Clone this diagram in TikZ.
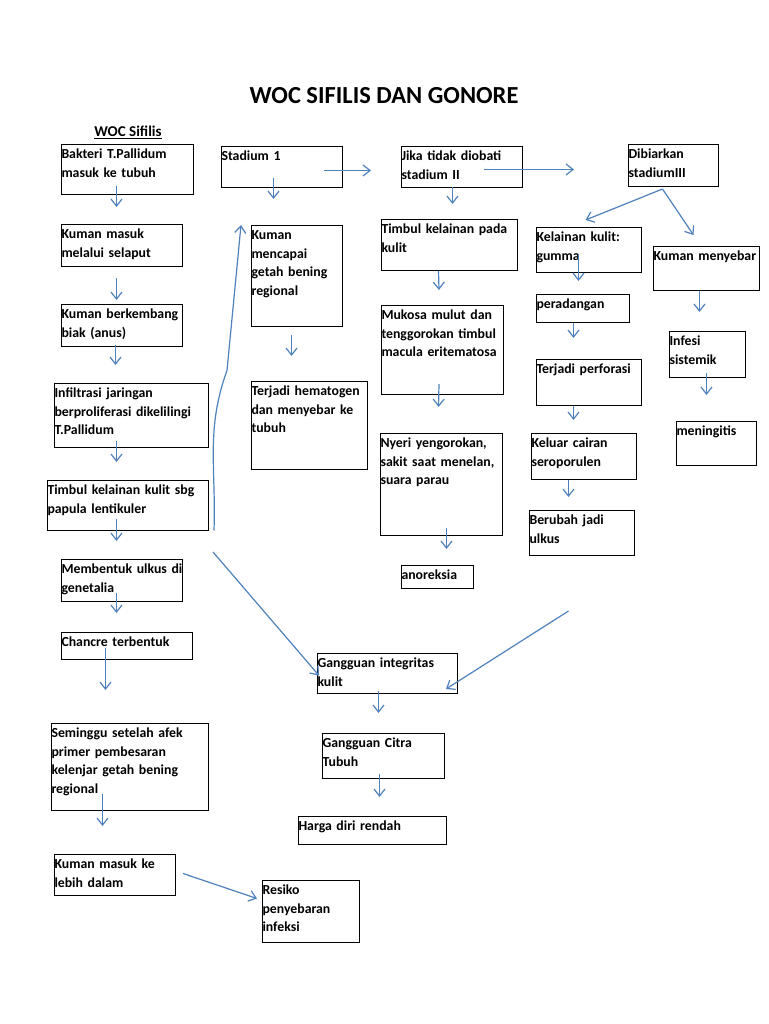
\documentclass[tikz,border=0pt]{standalone}
\usepackage{fontspec}
\setmainfont{Carlito}
\usetikzlibrary{arrows.meta}
\definecolor{wocblue}{RGB}{79,129,189}
\tikzset{
  woc box/.style 2 args={
    draw, line width=1pt,
    anchor=north west,
    inner sep=0pt, align=left,
    font=\bfseries\fontsize{13.8}{18.7}\selectfont,
    text width=#1pt, text height=14pt, text depth=#2pt,
  },
  woc arrow/.style={
    draw=wocblue, line width=1.2pt,
    -{Straight Barb[length=7pt,width=11pt]},
  },
  woc title/.style={
    anchor=base,
    font=\bfseries\fontsize{24.5}{28}\selectfont,
  },
}

\begin{document}
\begin{tikzpicture}[x=1pt, y=-1pt]

\path[fill=white] (0,0) rectangle (768,1024);

\node[woc title] (title) at (384,104) {WOC SIFILIS DAN GONORE};
\node[anchor=base, font=\bfseries\fontsize{15}{18}\selectfont] (sub) at (128,137)
  {\underline{WOC Sifilis}};

% stadium 1, left column
\node[woc box={132}{36}] (b1) at (61,144) {Bakteri T.Pallidum\\masuk ke tubuh};
\node[woc box={121}{28}] (b2) at (61,224) {Kuman masuk\\melalui selaput};
\node[woc box={121}{28}] (b3) at (61,304) {Kuman berkembang\\biak (anus)};
\node[woc box={154}{50}] (b4) at (54,383) {Infiltrasi jaringan\\berproliferasi dikelilingi\\T.Pallidum};
\node[woc box={161}{36}] (b5) at (47,480) {Timbul kelainan kulit sbg\\papula lentikuler};
\node[woc box={121}{28}] (b6) at (61,559) {Membentuk ulkus di\\genetalia};
\node[woc box={131}{13}] (b7) at (61,632) {Chancre terbentuk};
\node[woc box={157}{73}] (b8) at (51,723) {Seminggu setelah afek\\primer pembesaran\\kelenjar getah bening\\regional};
\node[woc box={121}{27}] (b9) at (54,854) {Kuman masuk ke\\lebih dalam};
\node[woc box={97}{48}] (b10) at (262,880) {Resiko\\penyebaran\\infeksi};

\node[woc box={121}{27}] (s1) at (221,146) {Stadium 1};
\node[woc box={91}{87}] (s1a) at (251,225) {Kuman\\mencapai\\getah bening\\regional};
\node[woc box={116}{74}] (s1b) at (251,381) {Terjadi hematogen\\dan menyebar ke\\tubuh};

% stadium 2
\node[woc box={121}{27}] (s2) at (401,146) {Jika tidak diobati\\stadium II};
\node[woc box={136}{37}] (s2a) at (381,219) {Timbul kelainan pada\\kulit};
\node[woc box={122}{75}] (s2b) at (381,305) {Mukosa mulut dan\\tenggorokan timbul\\macula eritematosa};
\node[woc box={122}{88}] (s2c) at (380,433) {Nyeri yengorokan,\\sakit saat menelan,\\suara parau};
\node[woc box={72}{9}] (s2d) at (401,565) {anoreksia};

% stadium 3
\node[woc box={90}{28}] (s3) at (628,144) {Dibiarkan\\stadiumIII};
\node[woc box={105}{31}] (s3a) at (536,227) {Kelainan kulit:\\gumma};
\node[woc box={93}{14}] (s3b) at (536,294) {peradangan};
\node[woc box={105}{32}] (s3c) at (536,359) {Terjadi perforasi};
\node[woc box={105}{32}] (s3d) at (531,433) {Keluar cairan\\seroporulen};
\node[woc box={105}{31}] (s3e) at (529,510) {Berubah jadi\\ulkus};
\node[woc box={106}{30}] (s3f) at (653,246) {Kuman menyebar};
\node[woc box={76}{32}] (s3g) at (669,331) {Infesi\\sistemik};
\node[woc box={80}{30}] (s3h) at (676,421) {meningitis};

% masalah
\node[woc box={140}{26}] (g1) at (317,653) {Gangguan integritas\\kulit};
\node[woc box={122}{31}] (g2) at (322,733) {Gangguan Citra\\Tubuh};
\node[woc box={148}{14}] (g3) at (298,816) {Harga diri rendah};

% arrows
\draw[woc arrow] ([shift={(-11,-9)}]b1.south) -- ([shift={(-5.5,-17)}]b2.north);
\draw[woc arrow] ([shift={(-5.5,11)}]b2.south) -- ([shift={(-5.5,-4)}]b3.north);
\draw[woc arrow] ([shift={(-6.5,-2)}]b3.south) -- ([shift={(-16,-18)}]b4.north);
\draw[woc arrow] ([shift={(-15,-7)}]b4.south) -- ([shift={(-11.5,-18)}]b5.north);
\draw[woc arrow] ([shift={(-11.5,-12)}]b5.south) -- ([shift={(-5.5,-18)}]b6.north);
\draw[woc arrow] ([shift={(-5.5,-9)}]b6.south) -- ([shift={(-10.5,-19)}]b7.north);
\draw[woc arrow] ([shift={(-21.5,-12)}]b7.south) -- ([shift={(-24.5,-33)}]b8.north);
\draw[woc arrow] ([shift={(-27.5,-17)}]b8.south) -- ([shift={(-12.5,-28)}]b9.north);
\draw[woc arrow] ([shift={(7,-1.5)}]b9.east) -- ([shift={(-5,-13)}]b10.west);

\draw[woc arrow] ([shift={(5,25)}]b5.east) to[out=88, in=-110] ++(13,-160)
  -- ([shift={(20,37)}]s1.south west);
\draw[woc arrow] ([shift={(4,21)}]b5.south east) -- ([shift={(2,2)}]g1.west);

\draw[woc arrow] ([shift={(-8.5,-10)}]s1.south) -- ([shift={(-23.5,-26)}]s1a.north);
\draw[woc arrow] ([shift={(-19,3.5)}]s1.east) -- ([shift={(-30,3.5)}]s2.west);
\draw[woc arrow] ([shift={(-5.5,8)}]s1a.south) -- ([shift={(-18,-25)}]s1b.north);

\draw[woc arrow] ([shift={(-39,2.5)}]s2.east) -- ([shift={(-54,4)}]s3.west);
\draw[woc arrow] ([shift={(-9.5,-1)}]s2.south) -- ([shift={(3,-15)}]s2a.north);
\draw[woc arrow] ([shift={(-11,0)}]s2a.south) -- ([shift={(-3.5,-15)}]s2b.north);
\draw[woc arrow] ([shift={(-3.5,-11)}]s2b.south) -- ([shift={(-3,-26)}]s2c.north);
\draw[woc arrow] ([shift={(5,-8)}]s2c.south) -- ([shift={(9,-16)}]s2d.north);

\draw[woc arrow] ([shift={(-11,2)}]s3.south) -- ([shift={(-3.5,-7)}]s3a.north);
\draw[woc arrow] ([shift={(-11,2)}]s3.south) -- ([shift={(-13,-11)}]s3f.north);
\draw[woc arrow] ([shift={(-10.5,-19)}]s3a.south) -- ([shift={(-4.5,-13)}]s3b.north);
\draw[woc arrow] ([shift={(-9.5,0)}]s3b.south) -- ([shift={(-15.5,-21)}]s3c.north);
\draw[woc arrow] ([shift={(-15.5,0)}]s3c.south) -- ([shift={(-10.5,-13)}]s3d.north);
\draw[woc arrow] ([shift={(-15.5,0)}]s3d.south) -- ([shift={(-13.5,-13)}]s3e.north);
\draw[woc arrow] ([shift={(-7,0)}]s3f.south) -- ([shift={(-8,-19)}]s3g.north);
\draw[woc arrow] ([shift={(-1,-5)}]s3g.south) -- ([shift={(-10,-26)}]s3h.north);
\draw[woc arrow] ([shift={(-13.5,55)}]s3e.south) -- ([shift={(-12,-5)}]g1.south east);

\draw[woc arrow] ([shift={(-9,-3)}]g1.south) -- ([shift={(-5,-20)}]g2.north);
\draw[woc arrow] ([shift={(-4,-5)}]g2.south) -- ([shift={(7,-19)}]g3.north);

\end{tikzpicture}
\end{document}
